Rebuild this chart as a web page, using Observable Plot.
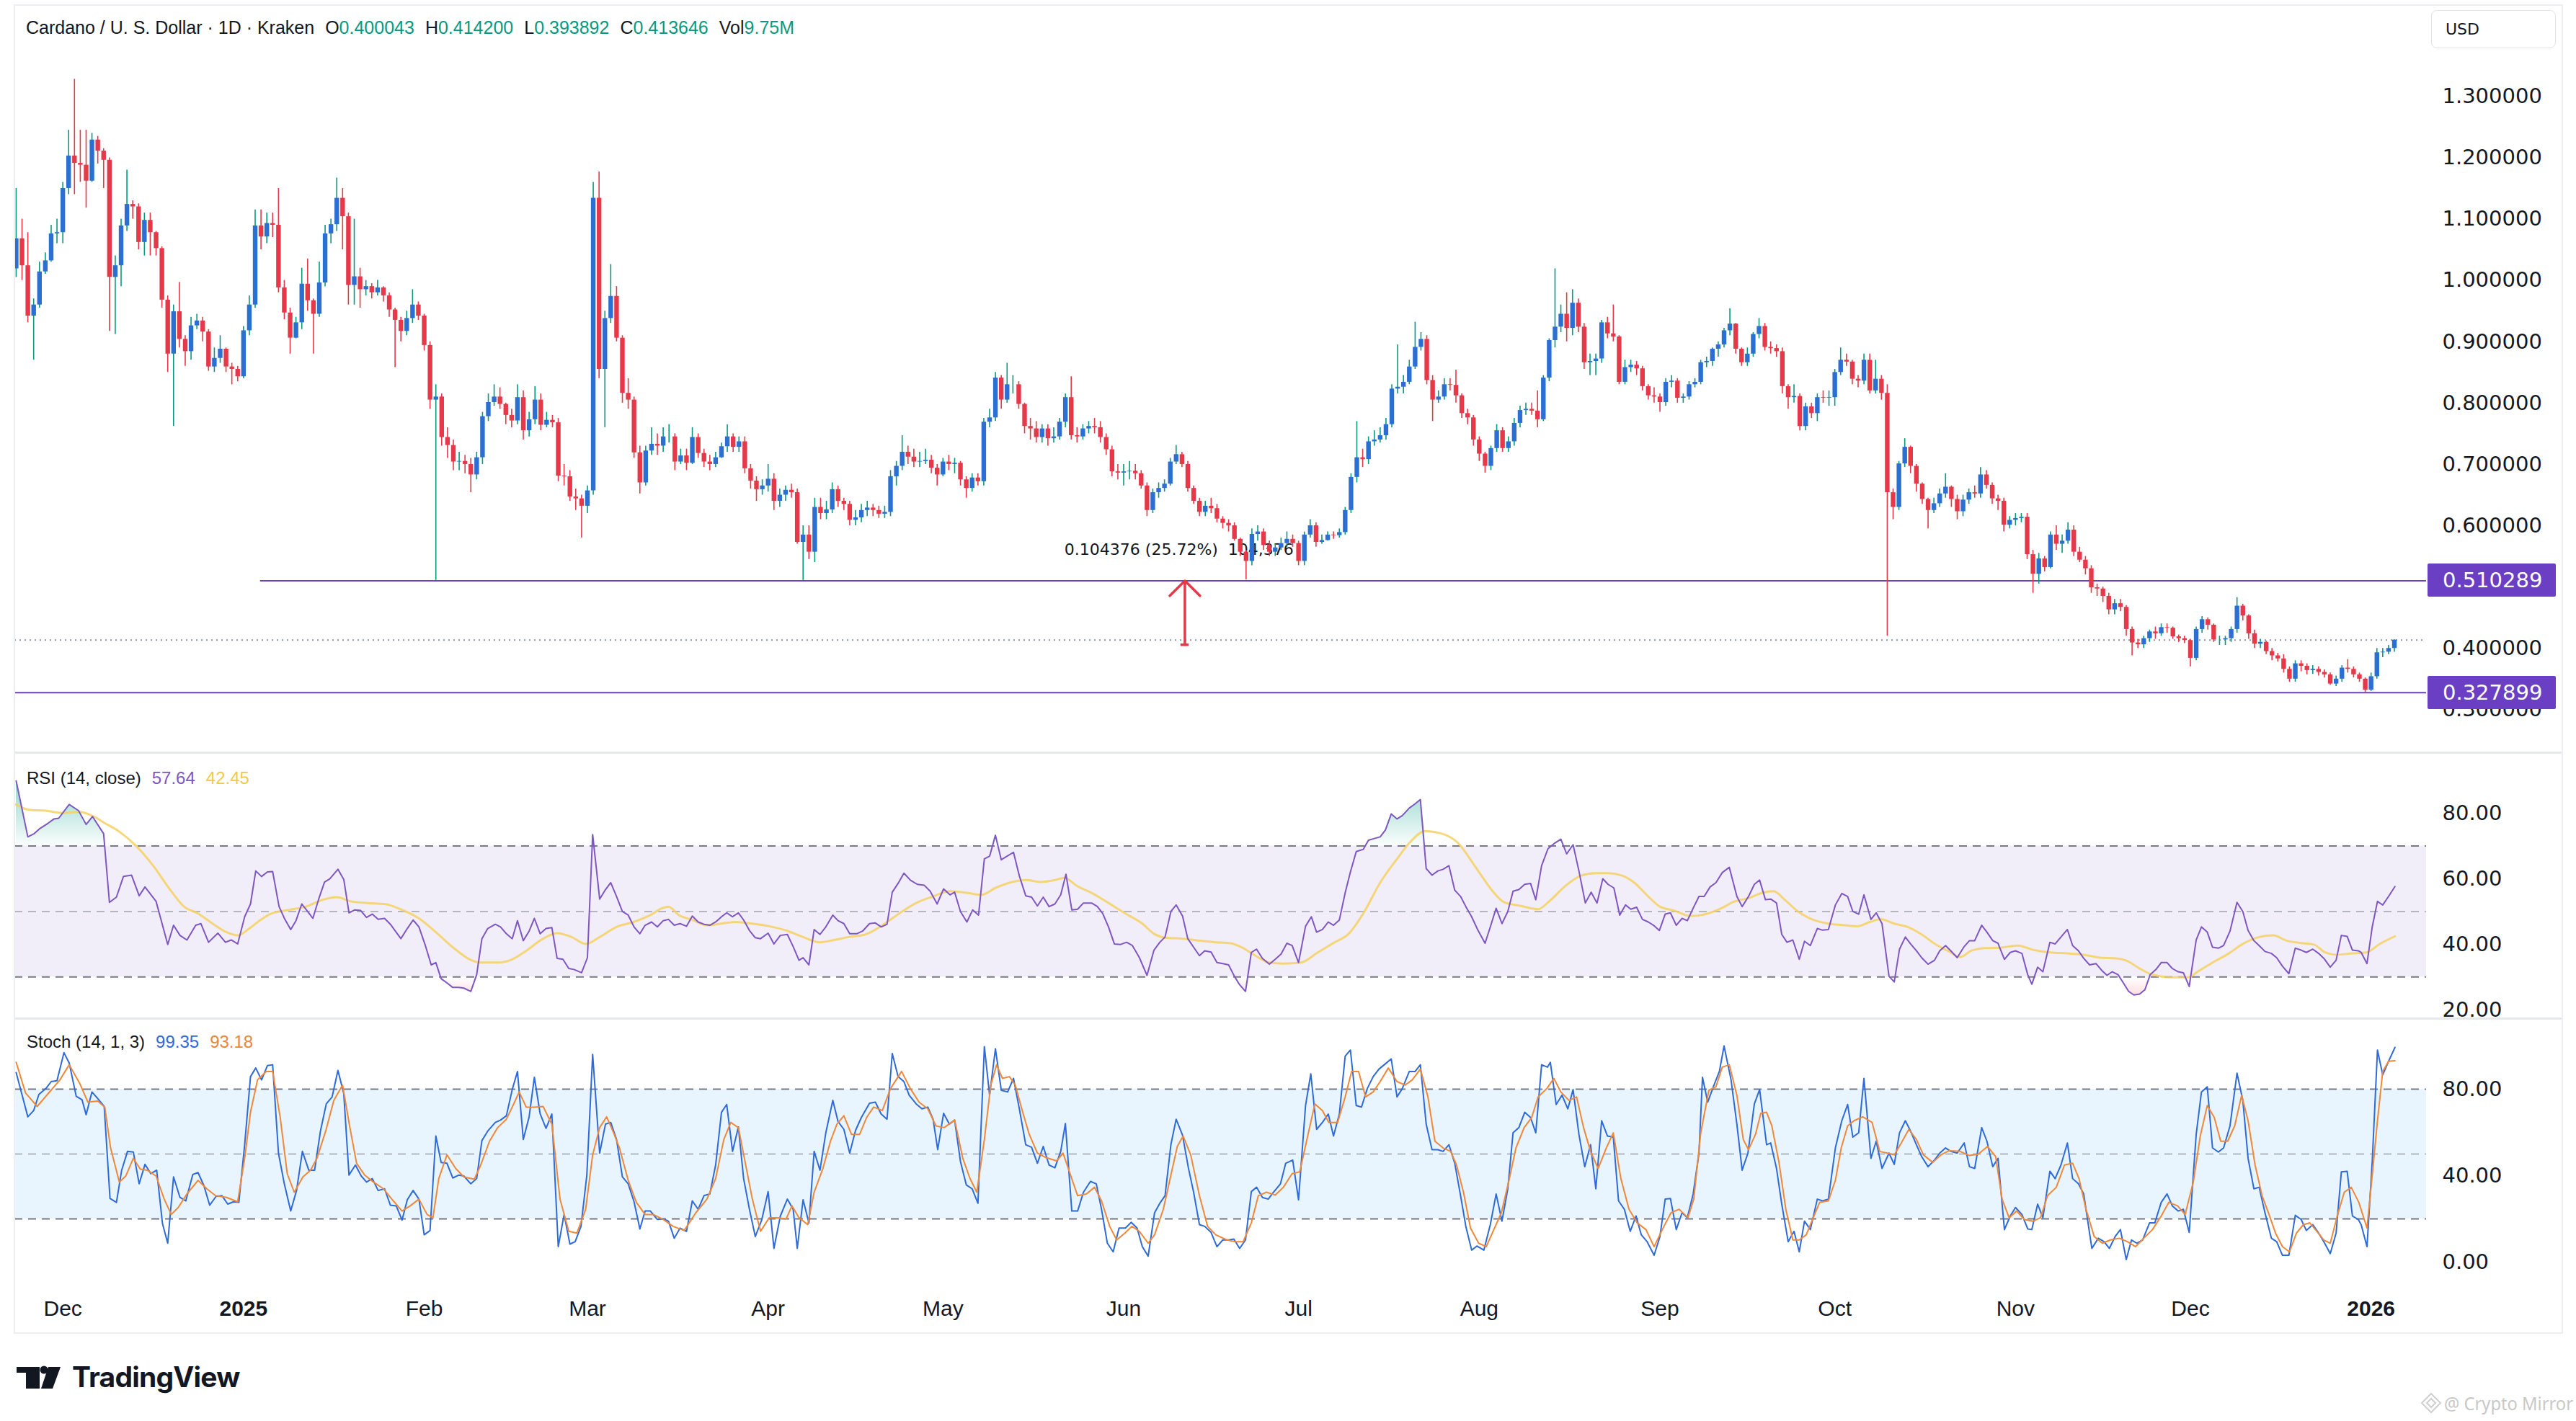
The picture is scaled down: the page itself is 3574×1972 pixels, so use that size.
<!DOCTYPE html>
<html lang="en">
<head>
<meta charset="utf-8">
<title>Cardano / U. S. Dollar · 1D · Kraken</title>
<script src="https://cdn.jsdelivr.net/npm/d3@7"></script>
<script src="https://cdn.jsdelivr.net/npm/@observablehq/plot@0.6"></script>
<style>
  html, body { margin:0; padding:0; background:#ffffff; }
  body { width:3574px; height:1972px; position:relative; overflow:hidden; font-family:"Liberation Sans", Arial, sans-serif; color:#131722; }
  .abs { position:absolute; }
  .pane svg { display:block; max-width:none !important; background:transparent !important; }
  .frame { left:19px; top:6px; width:3533px; height:1841px; border:2px solid #eceef1; pointer-events:none; }
  .sep { left:20px; width:3536px; height:3px; background:#e6e8ec; }
  .legend { font-size:24px; line-height:28px; white-space:nowrap; }
  .legend span { margin-left:15px; }
  .legend span.first { margin-left:0; }
  #title { font-size:25px; }
  .usd { left:3373px; top:14px; width:173px; height:53px; box-sizing:border-box; border:1px solid #e0e3eb; border-radius:8px; font-family:"DejaVu Sans", sans-serif; font-size:22px; line-height:51px; padding-left:19px; color:#131722; }
  .badge { left:3368px; width:178px; height:46px; box-sizing:border-box; background:#6a3fc4; color:#ffffff; font-family:"DejaVu Sans", sans-serif; font-size:29px; line-height:46px; padding-left:21px; border-radius:2px; }
  .brandText { left:100px; top:1891px; font-family:Inter, "Liberation Sans", sans-serif; font-weight:700; font-size:39px; line-height:40px; letter-spacing:-0.8px; color:#131722; }
  .wm { left:3391px; top:1929px; font-family:"Noto Sans", sans-serif; font-size:25px; line-height:36px; color:#c8c8c8; white-space:nowrap; transform-origin:left center; }
</style>
</head>
<body>
<div id="pricePane" class="abs pane" style="left:0;top:8px"></div>
<div id="rsiPane" class="abs pane" style="left:0;top:1046px"></div>
<div id="stochPane" class="abs pane" style="left:0;top:1415px"></div>
<div class="abs sep" style="top:1043px"></div>
<div class="abs sep" style="top:1412px"></div>
<div class="abs frame"></div>
<div id="title" class="abs legend" style="left:36px;top:24px"></div>
<div id="rsiLegend" class="abs legend" style="left:37px;top:1066px"></div>
<div id="stochLegend" class="abs legend" style="left:37px;top:1432px"></div>
<div class="abs usd">USD</div>
<svg class="abs" style="left:23px;top:1895px" width="62" height="34" viewBox="0 0 62 34">
  <rect x="0" y="2" width="32" height="8" fill="#131722"/>
  <rect x="13" y="2" width="19" height="30" fill="#131722"/>
  <circle cx="38" cy="6" r="5.5" fill="#131722"/>
  <polygon points="44,2 61,2 50,32 34,32" fill="#131722"/>
</svg>
<div class="abs brandText">TradingView</div>
<svg class="abs" style="left:3358px;top:1932px" width="30" height="30" viewBox="0 0 30 30">
  <g fill="none" stroke="#cfcfcf" stroke-width="2">
    <path d="M15 2 L28 15 L15 28 L2 15 Z"/>
    <path d="M15 9 L21 15 L15 21 L9 15 Z"/>
  </g>
</svg>
<div id="wm" class="abs wm">@ Crypto Mirror</div>
<script>
// ---------------- DATA ----------------
const symbolName = "Cardano / U. S. Dollar · 1D · Kraken";
const volumeLabel = "9.75M";
const firstCandleDay = -39;           // days from 2025-01-01 (i.e. 2024-11-23)
const firstOpen = 1.019;

const closes = [1.068,1.024,0.942,0.960,1.014,1.032,1.076,1.078,1.150,1.203,
1.191,1.188,1.162,1.229,1.211,1.196,1.005,1.024,1.089,1.124,
1.120,1.062,1.098,1.078,1.052,0.968,0.880,0.949,0.904,0.884,
0.926,0.934,0.916,0.859,0.873,0.888,0.859,0.855,0.843,0.918,
0.960,1.089,1.071,1.093,1.090,0.988,0.947,0.906,0.931,0.994,
0.967,0.945,0.996,1.076,1.091,1.134,1.104,0.992,1.006,0.985,
0.990,0.980,0.988,0.975,0.952,0.935,0.917,0.938,0.960,0.942,
0.894,0.805,0.810,0.744,0.731,0.704,0.705,0.700,0.683,0.711,
0.778,0.801,0.810,0.798,0.780,0.771,0.809,0.755,0.773,0.805,
0.764,0.772,0.768,0.681,0.680,0.647,0.644,0.632,0.657,1.134,
0.855,0.938,0.974,0.906,0.816,0.805,0.719,0.670,0.722,0.733,
0.730,0.745,0.745,0.704,0.714,0.702,0.744,0.718,0.704,0.700,
0.711,0.729,0.745,0.728,0.737,0.693,0.673,0.659,0.665,0.676,
0.640,0.650,0.658,0.654,0.573,0.585,0.557,0.630,0.620,0.626,
0.659,0.640,0.635,0.609,0.613,0.625,0.629,0.625,0.619,0.622,
0.680,0.697,0.720,0.712,0.704,0.705,0.707,0.694,0.683,0.704,
0.700,0.702,0.675,0.661,0.678,0.672,0.769,0.776,0.841,0.805,
0.830,0.830,0.798,0.762,0.758,0.744,0.758,0.742,0.745,0.769,
0.809,0.747,0.745,0.758,0.762,0.760,0.744,0.724,0.688,0.686,
0.688,0.689,0.685,0.665,0.625,0.654,0.661,0.668,0.704,0.716,
0.700,0.661,0.640,0.622,0.632,0.628,0.611,0.604,0.600,0.578,
0.557,0.542,0.586,0.590,0.568,0.557,0.564,0.571,0.578,0.571,
0.542,0.585,0.600,0.573,0.576,0.585,0.584,0.589,0.625,0.679,
0.711,0.708,0.737,0.740,0.747,0.765,0.823,0.826,0.834,0.859,
0.891,0.904,0.837,0.805,0.810,0.830,0.829,0.812,0.783,0.776,
0.740,0.717,0.697,0.726,0.755,0.726,0.737,0.767,0.788,0.790,
0.787,0.773,0.841,0.902,0.924,0.945,0.922,0.963,0.924,0.866,
0.868,0.872,0.931,0.913,0.908,0.834,0.858,0.862,0.856,0.827,
0.812,0.810,0.801,0.834,0.836,0.808,0.810,0.830,0.834,0.866,
0.868,0.888,0.895,0.918,0.929,0.888,0.866,0.880,0.912,0.925,
0.891,0.889,0.884,0.827,0.809,0.811,0.762,0.794,0.783,0.809,
0.808,0.809,0.850,0.870,0.867,0.839,0.836,0.870,0.820,0.839,
0.816,0.654,0.630,0.701,0.728,0.697,0.668,0.643,0.625,0.636,
0.652,0.663,0.643,0.623,0.642,0.654,0.652,0.683,0.666,0.644,
0.640,0.601,0.609,0.612,0.614,0.553,0.521,0.546,0.532,0.585,
0.570,0.575,0.593,0.557,0.544,0.530,0.499,0.497,0.485,0.463,
0.473,0.467,0.431,0.409,0.406,0.416,0.427,0.424,0.434,0.433,
0.419,0.416,0.413,0.384,0.431,0.447,0.438,0.414,0.414,0.416,
0.431,0.469,0.453,0.424,0.407,0.410,0.395,0.388,0.383,0.366,
0.350,0.375,0.371,0.364,0.366,0.361,0.357,0.342,0.350,0.368,
0.366,0.357,0.350,0.332,0.354,0.393,0.394,0.400043,0.413646];

const highs = [1.150,1.100,1.078,0.970,1.030,1.045,1.090,1.100,1.160,1.245,
1.328,1.245,1.245,1.240,1.235,1.215,1.200,1.040,1.100,1.180,
1.130,1.125,1.110,1.110,1.080,1.055,0.975,0.960,0.997,0.910,
0.940,0.945,0.940,0.920,0.890,0.910,0.890,0.865,0.860,0.925,
0.975,1.115,1.115,1.110,1.110,1.150,1.000,0.955,0.940,1.020,
1.035,0.970,1.030,1.090,1.100,1.167,1.150,1.110,1.100,1.020,
1.000,0.995,1.000,0.990,0.980,0.955,0.940,0.950,0.985,0.965,
0.945,0.900,0.830,0.815,0.760,0.740,0.720,0.715,0.710,0.720,
0.785,0.815,0.830,0.825,0.800,0.790,0.830,0.820,0.785,0.827,
0.815,0.785,0.780,0.775,0.700,0.690,0.660,0.650,0.665,1.160,
1.177,0.950,1.026,0.990,0.910,0.840,0.810,0.730,0.730,0.760,
0.750,0.760,0.765,0.750,0.725,0.725,0.760,0.750,0.725,0.715,
0.720,0.735,0.765,0.750,0.745,0.745,0.700,0.680,0.675,0.700,
0.685,0.660,0.665,0.668,0.660,0.600,0.600,0.645,0.645,0.640,
0.670,0.665,0.645,0.640,0.625,0.635,0.640,0.635,0.632,0.632,
0.690,0.705,0.747,0.730,0.725,0.720,0.725,0.715,0.700,0.710,
0.715,0.710,0.705,0.680,0.685,0.685,0.775,0.790,0.850,0.845,
0.865,0.845,0.835,0.800,0.775,0.770,0.765,0.765,0.760,0.775,
0.815,0.843,0.760,0.765,0.770,0.775,0.770,0.750,0.730,0.700,
0.700,0.705,0.700,0.690,0.670,0.660,0.670,0.675,0.710,0.731,
0.720,0.705,0.665,0.645,0.640,0.645,0.635,0.615,0.610,0.605,
0.580,0.560,0.595,0.600,0.595,0.575,0.570,0.580,0.590,0.585,
0.575,0.590,0.610,0.605,0.585,0.590,0.590,0.595,0.630,0.685,
0.770,0.725,0.745,0.755,0.760,0.775,0.830,0.895,0.845,0.870,
0.932,0.915,0.910,0.845,0.820,0.840,0.840,0.854,0.815,0.790,
0.780,0.745,0.720,0.730,0.765,0.760,0.745,0.775,0.795,0.800,
0.800,0.820,0.845,0.905,1.019,0.960,0.980,0.985,0.970,0.930,
0.880,0.880,0.935,0.940,0.960,0.910,0.870,0.870,0.868,0.860,
0.830,0.825,0.815,0.840,0.845,0.840,0.815,0.835,0.840,0.870,
0.875,0.890,0.900,0.922,0.954,0.930,0.890,0.890,0.915,0.938,
0.930,0.900,0.895,0.890,0.830,0.830,0.815,0.800,0.800,0.815,
0.820,0.820,0.855,0.890,0.880,0.870,0.845,0.880,0.880,0.870,
0.845,0.830,0.660,0.705,0.742,0.730,0.700,0.670,0.645,0.645,
0.660,0.685,0.665,0.650,0.650,0.660,0.665,0.695,0.690,0.670,
0.650,0.645,0.615,0.620,0.620,0.620,0.560,0.555,0.550,0.590,
0.600,0.585,0.605,0.600,0.565,0.550,0.535,0.505,0.500,0.490,
0.480,0.480,0.470,0.435,0.415,0.420,0.430,0.435,0.440,0.440,
0.435,0.422,0.420,0.415,0.435,0.452,0.450,0.440,0.420,0.420,
0.435,0.483,0.472,0.455,0.430,0.415,0.412,0.400,0.392,0.390,
0.370,0.380,0.380,0.375,0.372,0.370,0.365,0.360,0.355,0.372,
0.382,0.370,0.360,0.352,0.360,0.400,0.400,0.405,0.414200];

const lows = [1.005,1.000,0.931,0.870,0.955,1.010,1.030,1.060,1.060,1.140,
1.140,1.160,1.118,1.160,1.190,1.150,0.917,0.912,0.990,1.080,
1.100,1.050,1.040,1.040,1.040,0.955,0.850,0.762,0.890,0.860,
0.870,0.920,0.900,0.852,0.850,0.865,0.850,0.830,0.835,0.840,
0.910,0.955,1.050,1.060,1.070,0.980,0.936,0.880,0.905,0.920,
0.950,0.880,0.940,0.990,1.060,1.080,1.050,0.960,0.960,0.955,
0.975,0.970,0.975,0.965,0.940,0.858,0.900,0.910,0.930,0.935,
0.885,0.790,0.511,0.730,0.710,0.690,0.690,0.685,0.654,0.675,
0.700,0.770,0.795,0.790,0.765,0.760,0.765,0.740,0.745,0.765,
0.755,0.760,0.760,0.672,0.665,0.640,0.625,0.580,0.620,0.650,
0.840,0.760,0.930,0.900,0.800,0.790,0.710,0.652,0.665,0.715,
0.715,0.720,0.735,0.690,0.700,0.690,0.700,0.710,0.695,0.690,
0.695,0.710,0.720,0.720,0.720,0.685,0.660,0.640,0.650,0.655,
0.625,0.630,0.640,0.645,0.570,0.511,0.545,0.540,0.610,0.610,
0.620,0.630,0.625,0.600,0.600,0.605,0.615,0.615,0.612,0.612,
0.615,0.665,0.690,0.700,0.695,0.695,0.700,0.685,0.665,0.680,
0.690,0.685,0.665,0.645,0.655,0.665,0.665,0.760,0.770,0.790,
0.800,0.815,0.790,0.750,0.740,0.735,0.735,0.730,0.735,0.740,
0.760,0.740,0.735,0.740,0.750,0.750,0.735,0.715,0.680,0.675,
0.665,0.675,0.675,0.660,0.615,0.620,0.645,0.655,0.665,0.700,
0.695,0.655,0.635,0.615,0.615,0.620,0.605,0.595,0.590,0.575,
0.550,0.512,0.535,0.575,0.560,0.550,0.550,0.560,0.565,0.565,
0.535,0.535,0.580,0.565,0.570,0.575,0.578,0.580,0.585,0.620,
0.670,0.695,0.700,0.730,0.735,0.740,0.760,0.815,0.815,0.830,
0.855,0.885,0.830,0.770,0.800,0.805,0.820,0.800,0.775,0.765,
0.730,0.705,0.686,0.690,0.720,0.720,0.720,0.730,0.760,0.780,
0.780,0.760,0.770,0.835,0.890,0.915,0.900,0.910,0.915,0.855,
0.845,0.845,0.865,0.905,0.900,0.830,0.830,0.850,0.845,0.820,
0.805,0.800,0.785,0.795,0.825,0.800,0.800,0.805,0.825,0.830,
0.858,0.860,0.875,0.890,0.910,0.880,0.860,0.860,0.875,0.905,
0.885,0.880,0.875,0.815,0.790,0.800,0.755,0.755,0.775,0.770,
0.800,0.795,0.795,0.845,0.860,0.830,0.825,0.830,0.815,0.815,
0.805,0.420,0.610,0.625,0.695,0.685,0.655,0.635,0.595,0.620,
0.630,0.645,0.630,0.610,0.615,0.635,0.645,0.645,0.660,0.635,
0.625,0.590,0.595,0.600,0.605,0.545,0.490,0.505,0.525,0.530,
0.560,0.555,0.570,0.550,0.540,0.520,0.490,0.485,0.475,0.455,
0.455,0.460,0.420,0.388,0.400,0.400,0.410,0.415,0.420,0.425,
0.415,0.410,0.408,0.370,0.380,0.425,0.430,0.410,0.405,0.405,
0.410,0.425,0.445,0.415,0.400,0.400,0.390,0.380,0.378,0.360,
0.345,0.345,0.362,0.357,0.358,0.355,0.352,0.340,0.338,0.345,
0.360,0.352,0.345,0.327899,0.330,0.350,0.385,0.390,0.393892];

// horizontal levels and the price-range drawing
const levelHigh = 0.510289, levelHighStartDay = 2.9;
const levelLow = 0.327899;
const rangeTool = { day: 161.5, from: 0.405913, to: 0.510289, label: "0.104376 (25.72%)  104,376" };
const priceTicks = [0.3, 0.4, 0.6, 0.7, 0.8, 0.9, 1.0, 1.1, 1.2, 1.3];   // 0.500000 is hidden by the level badge

// RSI (14, close) and its moving average: [day from 2025-01-01, value]
const rsiPoints = [[-39,89.9],[-37,72.8],[-35.9,73.8],[-34.9,75.4],[-33.5,77],[-32.5,78.3],[-31.7,78.5],[-29.9,82.7],[-28.3,80.8],[-27,76.6],[-25.9,79],[-24,73.8],[-23,52.8],[-21.8,54.4],[-20.6,60.7],[-19.2,61.1],[-17.9,54.8],[-16.9,57.5],[-15,53.1],[-13,39.9],[-12,45.8],[-10.9,42.7],[-9.7,41.3],[-8.2,45.8],[-7.3,46.3],[-6,40.6],[-4.4,43.4],[-3.1,40.6],[-2.1,41.3],[-1,40.1],[0.2,48.4],[1.2,52.3],[2.1,62.4],[3.1,60.7],[4.1,62.1],[5,62.2],[6.1,51.5],[7.1,47.6],[8.1,44.5],[9,47.2],[10,52.3],[11,50],[11.9,47.9],[12.9,53.8],[13.9,59],[14.8,60],[16.2,62.9],[17.2,59.8],[18.1,49.6],[19.1,50.5],[20.1,50.3],[21.1,48.2],[22.1,49.2],[23.1,47.6],[24.2,47.9],[25.2,46.1],[27,41.7],[28.1,44.8],[29.1,47.4],[30.1,45.3],[31.2,39.6],[32.2,33.7],[33,34.4],[33.9,29.5],[34.9,28.2],[35.9,26.8],[36.9,26.8],[37.8,26.6],[39,25.6],[40,30.7],[40.9,41.7],[41.9,44.8],[43.2,46.1],[44.1,45.3],[45.1,43.2],[46.1,41.7],[47,47.2],[48,41.1],[49,44],[49.9,47.9],[50.9,43.2],[51.9,44.8],[52.9,45.1],[53.8,35.7],[54.8,35.4],[55.8,32.6],[56.7,32.3],[58,31.3],[59,35.9],[59.9,73.5],[61.1,53.8],[62.1,56.7],[63,58.8],[64,54.6],[65,50],[66,48.9],[67,45.3],[68,43.2],[68.9,45.8],[70,46.8],[71,45.3],[72,47.2],[72.9,47.6],[73.9,45.8],[74.9,46.3],[76,45.5],[77,48.6],[78,46.8],[79,46.1],[80,45.8],[81,46.8],[82,48.4],[82.9,49.6],[83.9,48.4],[84.9,49.6],[85.8,47.4],[86.8,44.2],[87.8,42],[88.7,41.7],[90,43.4],[91,40.1],[92.1,42.7],[93.3,43],[94.3,39.3],[95.3,35.1],[96,35.9],[97,33.7],[97.9,44.5],[98.9,43],[99.9,45.3],[101.1,48.9],[102,47.2],[103,46.3],[104,43.2],[105.2,43.2],[106.2,44],[107.4,46.3],[108.4,46.5],[109.4,45.3],[110.4,46.1],[111.3,55.9],[112.3,58.6],[113.3,61.7],[114.4,59.6],[115.6,58.3],[116.8,58],[117.8,56.2],[119,52.3],[120.1,56.9],[121.2,55.1],[122,55.9],[123,50],[124.1,46.8],[125.1,50.5],[126.1,48.9],[127.1,66.1],[128,66.9],[129,73.3],[130,65.8],[131,66.9],[132.1,68.1],[133.1,60.9],[134.2,54.8],[135.2,54.4],[136.2,51.7],[137.2,54.4],[138.2,51.5],[139.2,52.3],[140.2,55.1],[141.1,61.4],[142.1,50.5],[143.1,50.7],[144.1,52.6],[145.5,52.6],[146.5,51.5],[147.4,49.4],[148.4,45.3],[149.4,40.1],[150.4,39.9],[151.5,40.6],[152.5,39.6],[153.7,35.9],[155,30.5],[156.2,38.2],[157.2,40.6],[158.1,42.2],[159.1,50],[160,52],[161.1,48.6],[162,41.7],[163,39.1],[164,36.5],[164.9,38],[166,37.6],[167,34.4],[168,34.1],[169,33.7],[170,30.2],[170.9,27.6],[171.9,25.6],[172.9,37.5],[173.8,38.5],[174.8,35.7],[176,33.9],[177,35.4],[178,37],[179,40.3],[179.9,39.6],[181,34.4],[182.2,45.5],[183.2,48.4],[184.1,43.7],[185.1,44.5],[186.1,46.8],[187,45.8],[188,47.4],[189,55.7],[189.9,62.1],[190.9,68.3],[192.1,69],[193,71.8],[194,72.3],[195,72.8],[195.9,74.9],[196.9,79.8],[197.9,78.3],[198.8,79.3],[200,81.6],[201,82.9],[201.9,84.2],[202.9,63.1],[203.9,61.1],[204.9,62.4],[205.8,62.9],[206.8,64],[207.8,56.5],[208.8,54.6],[209.7,51.5],[210.7,48.4],[211.8,44.2],[213,40.3],[213.9,45.3],[214.9,51],[215.9,46.3],[216.9,50],[217.8,56.2],[218.8,56.7],[219.8,58.3],[220.8,58.6],[221.7,53.6],[222.7,64],[223.8,69.2],[224.8,70.7],[226,72.1],[227,67.6],[228.1,70.4],[229.1,62.4],[230.2,52.6],[231.2,55.9],[232.2,52.6],[233.2,60],[234.1,58.3],[235.1,57.2],[236.1,48.9],[237.1,52],[238,50.7],[239,51.3],[240,47.6],[241,46.8],[241.9,45.8],[242.9,44.2],[243.9,49.2],[244.8,49.6],[245.8,45.8],[246.8,47.9],[247.7,47.2],[248.7,51],[249.7,54.6],[250.6,54.6],[251.6,57.5],[252.6,58.8],[253.7,61.9],[254.9,63.5],[256.2,54.6],[257.1,51.5],[258.2,54.6],[259.2,58.3],[260.1,59.6],[261.1,53.6],[262,53.8],[263,52.6],[263.9,43],[264.8,40.6],[265.8,41.3],[266.9,35.4],[267.8,40.9],[268.8,39.6],[270,44.8],[270.9,44.3],[271.9,44.5],[273.1,52],[274.2,55.5],[275.2,54.6],[276.1,50],[277.1,49.2],[278,55.1],[279.2,47.6],[280.1,49.6],[281.1,46.3],[282.3,30.2],[283.2,28.5],[284.1,38.5],[285.1,42.2],[286,40.1],[287,38],[287.9,35.9],[289,33.9],[290.1,35.1],[291,38],[292,39.6],[292.9,38],[294,35.9],[295.2,39.3],[296.1,41.1],[297,41.1],[298.2,45.8],[299.1,43.7],[300.1,41.1],[301,40.3],[302.1,35.4],[303.1,37.5],[304,38],[305.1,37.2],[306.1,30.7],[306.8,27.8],[307.8,33],[308.7,31.6],[309.9,40.6],[310.8,40.1],[311.8,42.2],[312.9,44.5],[313.8,39.6],[314.8,38],[315.7,35.7],[316.7,33.7],[317.8,34.1],[318.8,32],[319.7,30.5],[320.6,31.6],[321.6,30.7],[322.5,28.2],[323.4,25.6],[324.3,24.5],[325.3,24.8],[326.2,26.1],[327.1,30.7],[328.1,32.3],[329,34.4],[330,34.4],[330.9,32.6],[331.9,31.6],[332.8,31.3],[333.8,27.1],[335,41.3],[335.9,45.3],[336.9,43.7],[337.8,39.1],[338.8,38.8],[339.7,39.6],[340.8,44],[342,52.8],[343,50],[343.9,44.2],[344.9,41.1],[345.8,39.6],[346.8,37.8],[347.9,37.2],[348.8,35.9],[349.8,33.3],[350.9,31],[352,38.8],[353,38.2],[353.9,37.5],[355,38.5],[356,37.2],[356.9,35.7],[358,33],[359,35.1],[359.9,42.7],[360.9,42.4],[361.8,38.2],[362.8,38],[363.3,37.5],[364.3,34.1],[365.2,45.3],[366.1,53.1],[367,52],[368,54.6],[369.1,57.64]];

const rsiMaPoints = [[-39,82.7],[-36.9,81.1],[-34,80.8],[-31,80.1],[-28.1,80.4],[-25.7,79],[-23.8,77],[-21.3,74.4],[-18.4,70],[-15.5,64],[-12.6,56.7],[-10.2,51.5],[-7.8,49.4],[-5.3,46.3],[-2.9,43.7],[-1,42.7],[1,44.8],[2.9,47.4],[4.8,49.4],[7.8,50.5],[10.7,51.5],[13.6,53.6],[16,54.4],[18.4,53.1],[21.3,52.6],[24.2,52.3],[27.2,50.5],[30.1,47.9],[33,43.7],[35.9,39.1],[38.8,35.4],[40.7,34.4],[43.6,34.4],[46.1,35.4],[48.5,38],[51.4,41.7],[53.8,43.4],[56.3,42.2],[58.7,40.1],[61.1,42.2],[64,45.3],[66.9,46.8],[69.8,48.9],[71.8,51],[72.9,51.5],[74.7,48.9],[77.1,47.4],[79.5,45.8],[82,46.3],[84.4,46.8],[87.3,46.3],[90.2,45.5],[93.1,44.2],[96,42.2],[98.9,40.6],[101.3,41.3],[103.8,42.2],[106.7,43],[109.6,45.8],[112.5,49.4],[115.4,52.6],[118.3,54.6],[121.2,56.2],[124.1,55.7],[126.6,55.1],[129,57.2],[131.9,59],[134.3,59.6],[136.8,59],[139.2,59.6],[140.8,60.3],[143.1,57.7],[145.5,55.7],[148.4,52.6],[151.3,49.4],[154.2,46.3],[156.2,43.2],[158.1,42],[161.1,41.7],[164,41.1],[166.8,40.6],[169.3,40.3],[171.2,39.1],[173.6,36.5],[176,34.4],[178.5,34.1],[181.4,34.4],[184.3,37.5],[187.2,40.6],[189.6,43.2],[192.1,49.4],[195,58.8],[197.9,66.1],[200.3,71.5],[202.7,74.6],[204.6,74.2],[206.6,73.1],[208.5,70.7],[210.4,66.1],[212.4,60.9],[214.3,56.2],[216.3,52.8],[219.2,51.7],[222.1,50.7],[224,53.1],[226.9,58],[229.4,60.9],[231.8,61.7],[234.2,61.7],[236.6,60.9],[238.6,58.8],[241,54.6],[243,51.5],[245.4,50.3],[248.3,48.6],[251.2,49.4],[254.1,51.5],[255.4,52.8],[258.2,54.1],[260.6,55.7],[262.5,56.2],[264.4,53.6],[266.7,50],[269.1,47.6],[271.9,46.3],[274.7,45.8],[276.9,45.5],[279,46.8],[280.9,47.6],[283.2,46.3],[285.5,45.3],[287.9,43],[290.2,40.1],[292.6,37.8],[294.5,36.1],[296.4,38],[298.7,38.8],[301.6,39],[304.4,39.6],[307.2,38.2],[310,37.5],[312.9,37.2],[315.7,36.8],[318.5,35.9],[321.3,35.7],[323.2,34.9],[325.1,32.8],[327,31],[328.9,30.2],[330.7,29.9],[333.6,29.9],[335.4,31.8],[338.3,34.9],[340.6,37.2],[343,40.1],[345.8,42.2],[348.2,42.7],[350.5,41.1],[353.3,40.3],[355.2,39.9],[357.1,37.5],[359,36.8],[361.8,37.2],[364.2,37.5],[366.5,40.1],[369.1,42.45]];

// Stochastic (14, 1, 3): %K and %D, [day from 2025-01-01, value]
const stochKPoints = [[-39,87.7],[-37,67.2],[-36,70.1],[-35.1,77.6],[-33.9,80.3],[-33,83.5],[-32,83.9],[-30.8,96.9],[-29.9,92.1],[-28.7,76.7],[-27.7,75.1],[-27,68.2],[-26,78.7],[-25,75.6],[-23.9,72],[-22.9,29.4],[-21.8,27.6],[-20.9,42.5],[-19.9,51.2],[-18.9,50.9],[-17.9,36.2],[-16.9,45.2],[-15.9,40.9],[-14.9,42.5],[-13.9,17.8],[-13,8.7],[-12,39.4],[-10.9,29.9],[-9.9,28.3],[-8.7,40.5],[-7.8,41.4],[-6.8,35.4],[-5.8,26.3],[-4.7,30.4],[-3.7,30.7],[-2.7,26.8],[-1.7,27.9],[-0.8,27.6],[0.2,54.3],[1.2,85.8],[2.1,89.8],[3.1,84.3],[4.1,90.9],[5,91.3],[6,50.4],[7,36.2],[8.1,23.6],[9.1,33.1],[10.1,51.2],[11.2,42.5],[12.2,42.5],[13.2,60.6],[14.2,73.2],[15.2,76.4],[16.2,88.7],[17.2,78],[18.1,40.2],[19.2,44.9],[20.2,39.8],[21.1,37],[22.1,38.6],[23.1,33.1],[24.2,33.9],[25.2,26.3],[26.2,26],[27.2,19.4],[28.1,28.8],[29.1,33.1],[30.1,29.1],[31,12.6],[32,14.6],[33,58.3],[33.9,46.1],[34.9,45.7],[35.9,38.9],[36.9,40.2],[37.8,39.8],[39,36.2],[40,38.6],[40.9,56.2],[41.9,60.6],[43.2,64.6],[44.1,65.7],[45.1,67.7],[46.1,79.8],[47,88.2],[48,56.7],[49,67.2],[49.9,85.5],[50.9,68.5],[51.9,61.9],[52.9,68.5],[54,7.1],[55,22],[56,8.3],[56.9,9.4],[57.9,16.5],[58.9,40.2],[59.9,96.1],[61.1,50.4],[62.1,63.8],[63,64.6],[64,56.7],[65,39.4],[66,36.2],[67,27.9],[68,15.3],[68.9,23.6],[69.8,23.6],[71,19.7],[72,20],[72.9,18.9],[73.9,11],[74.9,15.7],[76,14.2],[77,28.3],[78,24.4],[79,30.7],[80,31.5],[81,44.9],[82,69.3],[82.9,72.9],[83.9,51.2],[84.9,62.5],[85.8,38.6],[86.8,24.4],[87.8,11.8],[88.9,19.4],[90,32.6],[91,6.3],[92.1,21.3],[93.3,29.1],[94.3,24.4],[95,6.3],[96,28.8],[97,18.1],[97.9,51.2],[98.9,42.5],[99.9,59.8],[101.1,74.8],[102,65],[103,61.4],[104,50.4],[105,60.9],[106,66.9],[107.4,73.5],[108.4,74],[109.4,68.5],[110.4,66.1],[111.3,96.5],[112.3,85.8],[113.3,83.5],[114.2,77.2],[115.4,73.2],[116.4,70.9],[117.4,71.7],[118.3,66.1],[119.1,52],[120.1,68.8],[121.1,63.8],[122,65.7],[123,46.5],[124,35.7],[125,33.9],[126,27.2],[127.1,99.7],[128,77.2],[129,98.7],[130,79.5],[131.1,78.7],[132.1,85],[133.1,70.9],[134.2,54.3],[135.2,53.1],[136.2,45.7],[137.2,53.5],[138.2,44.9],[139.2,43.6],[140.2,51.2],[141,64.1],[142.1,23.6],[143.1,23.6],[144.1,32.3],[145.3,37.3],[146.3,36.2],[147.2,24.4],[148.2,8.7],[149.2,4.7],[150.2,15.7],[151.3,15.7],[152.3,18.4],[153.3,15.7],[154.2,7.1],[155.2,2.7],[156.3,22.8],[157.3,27.6],[158.1,30.7],[159.1,54.3],[160,66.1],[161.1,58.7],[162.1,43.6],[163,32.3],[164,17.3],[164.9,16.5],[166,13.7],[167,7.1],[168,10.2],[169,10.2],[169.9,10.6],[170.9,6.3],[171.9,10.2],[172.9,32.6],[173.8,34.6],[174.8,29.9],[175.8,29.1],[176.7,32.3],[177.9,36.2],[178.8,45.7],[180,47.2],[181,28.8],[182.2,72.4],[183.1,87.1],[184.1,61.4],[185.1,64.6],[186.1,68.5],[187,58.3],[188,68.5],[189,95.3],[189.9,98.1],[190.9,72.4],[191.8,71.7],[192.8,80.3],[193.8,85.8],[194.8,89.3],[195.7,91.3],[196.9,94],[197.9,76.4],[198.8,80.3],[200,88.2],[201,88.2],[201.9,91.3],[202.9,63.8],[203.9,52],[204.9,52],[205.8,51.2],[206.8,54.3],[207.8,45.7],[208.8,30.7],[209.7,16.5],[210.7,5.5],[211.6,7.4],[212.8,5.5],[213.9,17.3],[214.9,31.5],[215.9,18.9],[216.9,33.9],[217.8,59.8],[218.8,62.2],[219.8,69.3],[220.8,66.9],[221.7,59.8],[222.7,91.3],[223.7,90.2],[224.2,92.4],[225.2,72.9],[226.2,77.2],[227.2,70.9],[228.1,79.8],[229.1,59.1],[230.1,44.1],[231.1,54.3],[232,33.9],[233,65.4],[234,58.3],[235,57.8],[235.9,28.3],[236.9,24.4],[237.9,14.2],[238.9,21.3],[239.8,12.6],[240.8,9.4],[242,3.1],[243,11.8],[243.9,29.1],[244.8,29.4],[245.8,15],[246.8,22.8],[247.7,20.5],[248.7,31.5],[249.7,50.4],[250.3,85.5],[251.2,74],[252.2,81.4],[253.2,88.2],[254,100],[255.2,84.3],[256.2,63.8],[257.1,42.5],[258.1,50.4],[259.2,73.2],[260.1,79.8],[261.3,54.3],[262,55.1],[263,43.3],[263.9,26.8],[265,9.4],[266,14.2],[266.9,4.7],[267.8,18.9],[268.8,15],[270,29.1],[270.9,28.3],[271.9,29.1],[273.1,52.8],[274.2,65.4],[275.2,72.9],[276.1,57.8],[277.1,59.8],[278,85],[279.2,48],[280.1,55.9],[281.1,43.3],[282.3,50.4],[283.2,45.2],[284.1,59.8],[285.1,65.4],[286,60.6],[287,54.3],[287.9,48.8],[289,44.1],[290.1,47.2],[291,50.4],[292,52.8],[292.9,51.2],[294,50.4],[295.2,55.1],[296.1,44.1],[297,43.3],[298.2,62.2],[299.1,55.9],[300.1,44.1],[301,48],[302.1,15],[303.1,21.3],[304,25.2],[305.1,22],[306.1,15.3],[306.8,15],[307.8,26.8],[308.7,20.5],[309.9,42],[310.8,38.6],[311.8,44.9],[312.9,55.1],[313.8,38.6],[314.8,36.2],[315.7,31.5],[317.1,6.3],[318.2,11],[319.2,9.4],[320.1,6.3],[321.1,11.8],[322,15],[323,1.1],[323.9,10.2],[324.8,8.7],[325.8,10.2],[327,18.1],[327.9,18.1],[329,27.6],[330,31.5],[330.9,26],[331.9,23.6],[332.8,24.4],[333.8,13.7],[335,59.1],[335.9,78.7],[336.9,81.1],[337.8,52.8],[338.8,50.9],[339.7,52.8],[340.8,63],[342,87.4],[343,74.8],[343.9,48],[344.9,33.9],[345.8,34.6],[346.8,22.8],[347.9,11],[348.8,9.4],[349.8,3.1],[350.9,3.1],[352,21.6],[353,19.7],[353.9,14.6],[355,17.3],[356,13.4],[356.9,9.4],[358,3.9],[359,13.4],[359.9,41.7],[360.9,42],[361.8,21.3],[362.8,19.7],[363.3,17.3],[364.3,7.1],[365.2,46.5],[366.1,98.1],[367,86.6],[368,92.9],[369.1,99.35]];

const stochDPoints = [[-39,92.4],[-37.4,78.3],[-35.4,72],[-33.5,78],[-31.5,84.3],[-29.9,91.3],[-28.1,82.7],[-26.7,74],[-25,74.5],[-23.8,71.7],[-22.8,52.8],[-21.3,37],[-20.2,39.8],[-18.9,48],[-17.7,43],[-16.5,42.5],[-15,39.8],[-13.6,29.1],[-12.4,22],[-11.2,25.2],[-9.7,31.5],[-7.8,37.8],[-6.3,33.9],[-4.8,30.7],[-2.9,29.9],[-1,27.9],[0.2,48],[1.2,69.3],[2.4,84.3],[3.9,88.2],[5,88.2],[6.3,66.9],[7.5,40.9],[8.7,32.3],[10.2,39.4],[11.5,42.5],[12.6,48],[14.1,60.6],[15.5,74.8],[17,81.9],[18.2,63],[19.4,45.7],[20.8,40.2],[22.3,37],[24,33.9],[25.7,28.3],[27.2,23.6],[28.6,26],[30.1,29.1],[31.5,22],[32.5,20.5],[33.5,38.6],[34.9,49.6],[36.4,43.3],[37.8,39.4],[39.6,38.3],[40.7,44.9],[42.2,55.9],[43.6,62.2],[45.1,66.1],[46.1,71.7],[47.3,78.7],[48.5,71.7],[49.9,71.7],[51.4,72],[52.9,63.8],[54.3,29.1],[55.8,14.2],[57.2,13.4],[58.7,24.4],[59.9,49.6],[61.1,62.2],[62.3,67.2],[63.5,59.8],[64.5,52.8],[66,37.8],[67.4,27.6],[68.9,22],[70.3,22],[72,19.7],[73.7,16.5],[75.6,14.6],[77.6,22.8],[79.5,29.1],[81,38.6],[82.4,56.7],[83.6,64.6],[84.9,62.2],[86.1,45.7],[87.3,29.1],[88.7,14.2],[90.2,20.5],[91.6,20.5],[93.1,20],[94.1,26],[95.3,20.5],[96.8,17.3],[97.9,32.3],[99.4,43.3],[100.7,55.9],[101.8,63.8],[103,67.7],[104.3,59.1],[105.7,59.1],[106.9,66.9],[108.1,71.7],[109.6,70.1],[111,80.3],[112.9,88.2],[114.4,80.3],[115.9,74],[117.4,70.9],[118.8,63],[120.2,62.2],[122,65.7],[123.4,48],[124.6,38.9],[125.8,32.3],[127.1,56.7],[128.2,81.9],[129.2,91.3],[130.2,85],[131.4,85.8],[132.4,81.9],[133.6,70.1],[134.8,59.1],[136.2,50.4],[137.7,48.3],[139.5,46.8],[140.6,50.4],[141.8,40.9],[143.1,30.7],[144.6,31.5],[146,34.6],[147.2,28.3],[148.6,16.5],[149.8,10.2],[151.2,13.4],[152.4,16.5],[153.7,14.2],[155.2,8.7],[156.3,12.6],[157.8,24.4],[159.1,40.2],[160.2,53.5],[161.2,58.3],[162.5,49.6],[164,30.7],[165.4,16.5],[166.8,12.6],[168.7,10.2],[170.2,9.4],[171.5,9.4],[172.9,18.1],[174.1,30.7],[175.5,32.3],[177,31],[178.4,34.6],[179.9,40.9],[181.2,41.7],[182.5,57.5],[183.8,73.2],[185.1,70.1],[186.2,64.6],[187.7,64.6],[189,76.4],[190.1,88.2],[191.3,88.2],[192.5,76.4],[193.8,78.7],[195,83.5],[196.4,89.8],[197.9,83.5],[199.3,81.9],[200.5,84.3],[201.9,89.3],[203.2,76.4],[204.4,55.9],[205.8,52.8],[207.1,51.2],[208.1,44.9],[209.3,32.3],[210.5,15.7],[211.9,8.7],[213.2,7.1],[214.5,15],[215.8,22.8],[217.1,37.8],[218.3,52.8],[219.7,62.2],[221,66.9],[222.1,76.4],[223.6,80.3],[224.8,85],[226,78.7],[227.4,74.8],[228.7,76.4],[229.9,62.2],[231.1,51.2],[232.4,43.3],[233.8,52.8],[235,59.8],[236.3,38.6],[237.7,24.4],[239.1,18.1],[240.6,15],[242,7.1],[243.4,15],[244.9,22.8],[246.3,24.4],[247.8,20.5],[248.8,29.1],[250,59.8],[251.4,79.5],[252.6,81.1],[253.7,90.2],[254.9,91.3],[256.2,77.2],[257.3,56.7],[258.2,52],[259.4,59.1],[260.3,68.8],[261.3,69.3],[262.2,63],[263.4,46.5],[264.6,24.4],[265.8,10.2],[266.9,10.2],[268.1,12.6],[269.3,20.5],[270.4,27.6],[271.9,28.3],[273.1,37.8],[274.1,52.8],[275.2,63],[276.3,65.4],[277.8,67.2],[279.4,64.6],[280.7,51.2],[282,50.4],[283.2,49.6],[284.4,55.1],[285.7,61.4],[287,56.7],[288.2,49.6],[289.8,46.1],[291.2,49.6],[292.6,51.5],[294.5,51.2],[296.1,49.3],[297.6,49.9],[299.2,53.5],[300.6,48.8],[301.7,29.1],[302.9,20.5],[304.2,23.6],[305.5,19.7],[307,18.9],[308.3,20.5],[309.5,30.7],[311,34.6],[312.4,44.9],[313.8,45.7],[314.9,38.6],[316.1,24.4],[317.5,11.8],[318.9,8.7],[320.3,10.2],[321.8,11],[323.2,9.4],[324.6,7.1],[326,11],[327.5,15],[329,21.3],[330.3,27.6],[331.8,26],[333.1,22],[334.5,37],[335.7,58.3],[336.9,72.4],[338.1,66.9],[339.2,55.9],[340.4,55.9],[341.6,63],[342.8,77.2],[343.9,65.4],[345.1,44.9],[346.3,30.7],[347.5,22],[348.6,13.4],[349.8,7.1],[351,4.7],[352.2,13.4],[353.4,17.3],[354.5,18.1],[355.7,14.2],[356.9,10.2],[358,8.7],[359.2,21.3],[360.4,32.3],[361.6,34.6],[362.9,27.6],[364.3,15.7],[365.2,40.2],[366.1,65.4],[367,88.2],[368,92.9],[369.1,93.18]];

// time-axis labels
const tickDates = ["2024-12-01","2025-01-01","2025-02-01","2025-03-01","2025-04-01","2025-05-01","2025-06-01","2025-07-01","2025-08-01","2025-09-01","2025-10-01","2025-11-01","2025-12-01","2026-01-01"];
const tickLabels = ["Dec","2025","Feb","Mar","Apr","May","Jun","Jul","Aug","Sep","Oct","Nov","Dec","2026"];
const rsiBand = [30, 70], rsiMid = 50, rsiTicks = [20, 40, 60, 80];
const stochBand = [20, 80], stochMid = 50, stochTicks = [0, 40, 80];

// ---------------- BUILD ----------------
const DAY = 86400000, EPOCH = Date.UTC(2025, 0, 1);
const toDate = t => new Date(EPOCH + t * DAY);
const W = 3574, ML = 20, MR = 208;
const xDomain = [toDate(-39.24), toDate(374.5)];
const UP = "#2b6fd3", DOWN = "#e5394a", UP_WICK = "#089981", PURPLE = "#6a3fc4";

const candles = closes.map((c, i) => ({
  date: toDate(firstCandleDay + i),
  o: i === 0 ? firstOpen : closes[i - 1],
  h: highs[i], l: lows[i], c
}));
const last = candles[candles.length - 1];
const pts = arr => arr.map(([t, v]) => ({ date: toDate(t), v }));
const rsi = pts(rsiPoints), rsiMa = pts(rsiMaPoints), stK = pts(stochKPoints), stD = pts(stochDPoints);

const baseStyle = { fontFamily: "DejaVu Sans, sans-serif", fontSize: "29px", color: "#131722", background: "transparent", overflow: "visible", maxWidth: "none" };

// ---- price pane ----
const pricePlot = Plot.plot({
  width: W, height: 1036, marginLeft: ML, marginRight: MR, marginTop: 0, marginBottom: 0,
  style: baseStyle,
  x: { type: "utc", domain: xDomain, axis: null },
  y: { domain: [0.22997, 1.4472] },
  marks: [
    Plot.axisY({ anchor: "right", ticks: priceTicks, tickFormat: d3.format(".6f"), tickSize: 0, tickPadding: 22, label: null }),
    Plot.ruleY([last.c], { stroke: "#8a94a6", strokeWidth: 2, strokeDasharray: "2,5" }),
    Plot.ruleY([levelLow], { stroke: PURPLE, strokeWidth: 2 }),
    Plot.ruleY([levelHigh], { x1: toDate(levelHighStartDay), x2: xDomain[1], stroke: PURPLE, strokeWidth: 2 }),
    Plot.text([rangeTool], { x: d => toDate(d.day - 1), y: "to", text: "label", dy: -43, fontSize: 22, fontFamily: "DejaVu Sans, sans-serif", fill: "#131722" }),
    Plot.ruleX(candles, { x: "date", y1: "l", y2: "h", stroke: d => d.c >= d.o ? UP_WICK : DOWN, strokeWidth: 1.6, clip: true }),
    Plot.ruleX(candles, { x: "date", y1: "o", y2: "c", stroke: d => d.c >= d.o ? UP : DOWN, strokeWidth: 6.4, clip: true }),
    Plot.arrow([rangeTool], { x1: d => toDate(d.day), x2: d => toDate(d.day), y1: "from", y2: "to", stroke: DOWN, strokeWidth: 3.5, headLength: 30, headAngle: 90 }),
    Plot.ruleY([rangeTool], { y: "from", x1: d => toDate(d.day - 0.7), x2: d => toDate(d.day + 0.7), stroke: DOWN, strokeWidth: 3.5 })
  ]
});
document.getElementById("pricePane").appendChild(pricePlot);

// ---- RSI pane ----
const rsiPlot = Plot.plot({
  width: W, height: 366, marginLeft: ML, marginRight: MR, marginTop: 0, marginBottom: 0,
  style: baseStyle,
  x: { type: "utc", domain: xDomain, axis: null },
  y: { domain: [17.52, 98.09] },
  marks: [
    Plot.rect([{ a: xDomain[0], b: xDomain[1], lo: rsiBand[0], hi: rsiBand[1] }], { x1: "a", x2: "b", y1: "lo", y2: "hi", fill: "#7e57c2", fillOpacity: 0.1 }),
    Plot.ruleY(rsiBand, { stroke: "#787b86", strokeWidth: 2, strokeDasharray: "11,8" }),
    Plot.ruleY([rsiMid], { stroke: "#787b86", strokeOpacity: 0.5, strokeWidth: 2, strokeDasharray: "11,8" }),
    Plot.areaY(rsi, { x: "date", y1: rsiBand[1], y2: d => Math.max(d.v, rsiBand[1]), fill: "url(#rsiOB)", clip: true }),
    Plot.areaY(rsi, { x: "date", y1: rsiBand[0], y2: d => Math.min(d.v, rsiBand[0]), fill: "url(#rsiOS)", clip: true }),
    Plot.line(rsiMa, { x: "date", y: "v", stroke: "#f5d163", strokeOpacity: 0.85, strokeWidth: 3, curve: "monotone-x", clip: true }),
    Plot.line(rsi, { x: "date", y: "v", stroke: "#7e57c2", strokeWidth: 2, clip: true }),
    Plot.axisY({ anchor: "right", ticks: rsiTicks, tickFormat: d3.format(".2f"), tickSize: 0, tickPadding: 22, label: null })
  ]
});
document.getElementById("rsiPane").appendChild(rsiPlot);

// gradients for overbought / oversold fills
(function addDefs(svg) {
  const NS = "http://www.w3.org/2000/svg";
  const defs = document.createElementNS(NS, "defs");
  const mk = (id, color, topOp, botOp) => {
    const g = document.createElementNS(NS, "linearGradient");
    g.setAttribute("id", id); g.setAttribute("x1", "0"); g.setAttribute("y1", "0"); g.setAttribute("x2", "0"); g.setAttribute("y2", "1");
    [[0, topOp], [1, botOp]].forEach(([off, op]) => {
      const s = document.createElementNS(NS, "stop");
      s.setAttribute("offset", off); s.setAttribute("stop-color", color); s.setAttribute("stop-opacity", op);
      g.appendChild(s);
    });
    defs.appendChild(g);
  };
  mk("rsiOB", "#22ab94", 0.5, 0.02);
  mk("rsiOS", "#f23645", 0.0, 0.16);
  svg.insertBefore(defs, svg.firstChild);
})(rsiPlot);

// ---- Stochastic pane (with time axis) ----
const ticks = tickDates.map((d, i) => ({ date: new Date(d + "T00:00:00Z"), label: tickLabels[i], bold: /^\d{4}$/.test(tickLabels[i]) }));
const stochPlot = Plot.plot({
  width: W, height: 436, marginLeft: ML, marginRight: MR, marginTop: 0, marginBottom: 71,
  style: baseStyle,
  x: { type: "utc", domain: xDomain, axis: null },
  y: { domain: [-9.72, 112.02] },
  marks: [
    Plot.rect([{ a: xDomain[0], b: xDomain[1], lo: stochBand[0], hi: stochBand[1] }], { x1: "a", x2: "b", y1: "lo", y2: "hi", fill: "#2196f3", fillOpacity: 0.1 }),
    Plot.ruleY(stochBand, { stroke: "#787b86", strokeWidth: 2, strokeDasharray: "11,8" }),
    Plot.ruleY([stochMid], { stroke: "#787b86", strokeOpacity: 0.5, strokeWidth: 2, strokeDasharray: "11,8" }),
    Plot.line(stK, { x: "date", y: "v", stroke: "#2f6bd8", strokeWidth: 2, clip: true }),
    Plot.line(stD, { x: "date", y: "v", stroke: "#f0883a", strokeWidth: 2, clip: true }),
    Plot.axisY({ anchor: "right", ticks: stochTicks, tickFormat: d3.format(".2f"), tickSize: 0, tickPadding: 22, label: null }),
    Plot.text(ticks.filter(d => !d.bold), { x: "date", text: "label", frameAnchor: "bottom", dy: 45, fontSize: 30, fontFamily: "Liberation Sans, Arial, sans-serif", fill: "#131722" }),
    Plot.text(ticks.filter(d => d.bold), { x: "date", text: "label", frameAnchor: "bottom", dy: 45, fontSize: 30, fontWeight: "bold", fontFamily: "Liberation Sans, Arial, sans-serif", fill: "#131722" })
  ]
});
document.getElementById("stochPane").appendChild(stochPlot);

// ---- price-scale badges for the two horizontal levels ----
function badge(plot, paneTop, value) {
  const s = plot.scale("y");
  const f = typeof s.apply === "function" ? v => s.apply(v) : d3.scaleLinear(s.domain, s.range);
  const div = document.createElement("div");
  div.className = "abs badge";
  div.style.top = (paneTop + f(value) - 23) + "px";
  div.textContent = d3.format(".6f")(value);
  document.body.appendChild(div);
}
badge(pricePlot, 8, levelHigh);
badge(pricePlot, 8, levelLow);

// ---- legends ----
const f6 = d3.format(".6f"), f2 = d3.format(".2f");
const TEAL = "#089981";
document.getElementById("title").innerHTML =
  `<span class="first">${symbolName}</span>` +
  `<span>O<b style="font-weight:normal;color:${TEAL}">${f6(last.o)}</b></span>` +
  `<span>H<b style="font-weight:normal;color:${TEAL}">${f6(last.h)}</b></span>` +
  `<span>L<b style="font-weight:normal;color:${TEAL}">${f6(last.l)}</b></span>` +
  `<span>C<b style="font-weight:normal;color:${TEAL}">${f6(last.c)}</b></span>` +
  `<span>Vol<b style="font-weight:normal;color:${TEAL}">${volumeLabel}</b></span>`;
document.getElementById("rsiLegend").innerHTML =
  `<span class="first">RSI (14, close)</span><span style="color:#7e57c2">${f2(rsi[rsi.length - 1].v)}</span><span style="color:#f2c94c">${f2(rsiMa[rsiMa.length - 1].v)}</span>`;
document.getElementById("stochLegend").innerHTML =
  `<span class="first">Stoch (14, 1, 3)</span><span style="color:#2f6bd8">${f2(stK[stK.length - 1].v)}</span><span style="color:#e8863a">${f2(stD[stD.length - 1].v)}</span>`;

// keep the watermark inside the page's right edge
const wm = document.getElementById("wm");
const wmW = wm.getBoundingClientRect().width, wmMax = 3570 - 3391;
if (wmW > wmMax) wm.style.transform = `scaleX(${(wmMax / wmW).toFixed(3)})`;
</script>
</body>
</html>
